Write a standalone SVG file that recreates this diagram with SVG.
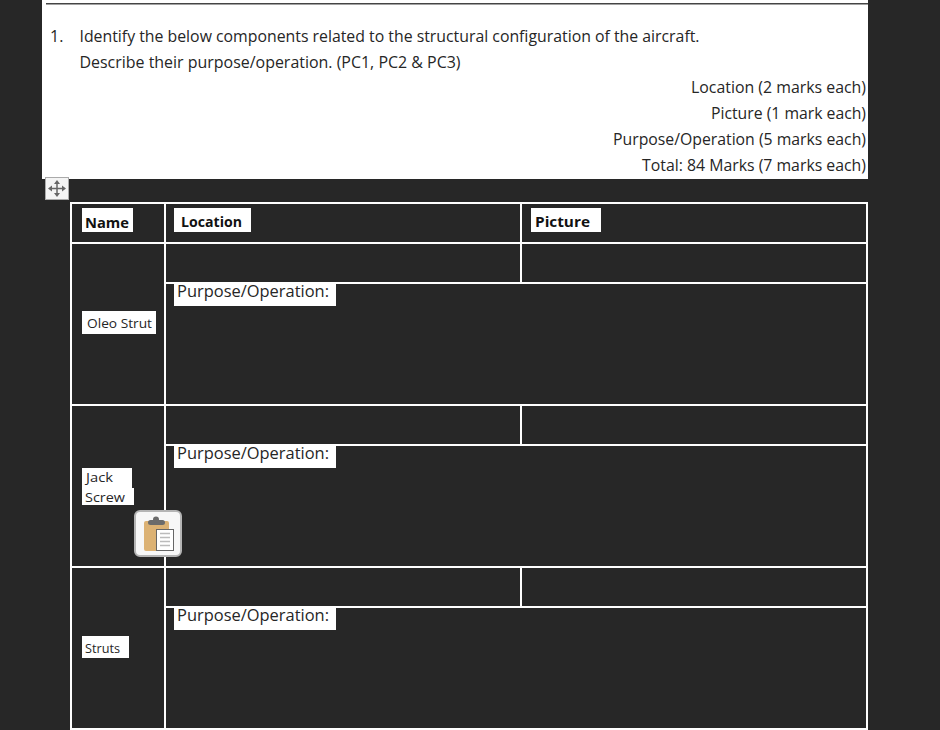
<svg xmlns="http://www.w3.org/2000/svg" width="940" height="730" viewBox="0 0 940 730">
<style>
text{font-family:"Open Sans","Noto Sans","Liberation Sans",sans-serif;fill:#262626}
.t{font-size:16px}
.r{font-size:16px;text-anchor:end}
.h{font-size:14.5px;font-weight:700;fill:#111}
.n{font-size:13.5px}
.p{font-size:16.5px}
.g{stroke:#fff;stroke-width:2;fill:none}
.w{fill:#fff}
</style>
<rect width="940" height="730" fill="#272727"/>
<g id="page">
<rect class="w" x="42" y="0" width="826" height="179"/>
<rect x="46" y="3" width="822" height="1.5" fill="#444"/>
<text class="t" x="50" y="42">1.</text>
<text class="t" x="79.500" y="42" textLength="620" lengthAdjust="spacingAndGlyphs">Identify the below components related to the structural configuration of the aircraft.</text>
<text class="t" x="79.500" y="68" textLength="381" lengthAdjust="spacingAndGlyphs">Describe their purpose/operation. (PC1, PC2 &amp; PC3)</text>
<text class="r" x="866" y="93" textLength="175" lengthAdjust="spacingAndGlyphs">Location (2 marks each)</text>
<text class="r" x="866" y="119" textLength="155" lengthAdjust="spacingAndGlyphs">Picture (1 mark each)</text>
<text class="r" x="866" y="145" textLength="253" lengthAdjust="spacingAndGlyphs">Purpose/Operation (5 marks each)</text>
<text class="r" x="866" y="171" textLength="224" lengthAdjust="spacingAndGlyphs">Total: 84 Marks (7 marks each)</text>
</g>
<g id="table-grid" class="g">
<path d="M71 203H867M71 243H867M165 283H867M71 405H867M165 445H867M71 567H867M165 607H867M71 729H867"/>
<path d="M71 202V730M165 202V730M867 202V730M521 203V243M521 243V283M521 405V445M521 567V607"/>
</g>
<g id="header-name"><rect class="w" x="82" y="208" width="51" height="24"/><text class="h" x="85" y="228" textLength="44" lengthAdjust="spacingAndGlyphs">Name</text></g>
<g id="header-location"><rect class="w" x="174" y="208" width="77" height="24"/><text class="h" x="181" y="227" textLength="61" lengthAdjust="spacingAndGlyphs">Location</text></g>
<g id="header-picture"><rect class="w" x="531" y="208" width="70" height="24"/><text class="h" x="535" y="227" textLength="55" lengthAdjust="spacingAndGlyphs">Picture</text></g>
<g id="row-oleo"><rect class="w" x="82" y="311" width="74" height="23"/><text class="n" x="87" y="328" textLength="65" lengthAdjust="spacingAndGlyphs">Oleo Strut</text></g>
<g id="row-jack"><rect class="w" x="82" y="468" width="50" height="20"/><rect class="w" x="82" y="488" width="52" height="17"/><text class="n" x="86" y="482" textLength="27" lengthAdjust="spacingAndGlyphs">Jack</text><text class="n" x="85" y="502" textLength="40" lengthAdjust="spacingAndGlyphs">Screw</text></g>
<g id="row-struts"><rect class="w" x="82" y="636" width="47" height="22"/><text class="n" x="85" y="653" textLength="35" lengthAdjust="spacingAndGlyphs">Struts</text></g>
<g id="purpose-1"><rect class="w" x="174" y="284" width="162" height="22"/><text class="p" x="177" y="297" textLength="152" lengthAdjust="spacingAndGlyphs">Purpose/Operation:</text></g>
<g id="purpose-2"><rect class="w" x="174" y="446" width="162" height="22"/><text class="p" x="177" y="459" textLength="152" lengthAdjust="spacingAndGlyphs">Purpose/Operation:</text></g>
<g id="purpose-3"><rect class="w" x="174" y="608" width="162" height="22"/><text class="p" x="177" y="621" textLength="152" lengthAdjust="spacingAndGlyphs">Purpose/Operation:</text></g>
<g id="move-handle">
<rect x="45.500" y="177.500" width="23" height="22" fill="#f4f4f4" stroke="#aaa"/>
<path d="M57 182V195M50 188.500H64" stroke="#666" stroke-width="1.500"/>
<path d="M57 180l-3 4h6zM57 197l-3-4h6zM48 188.500l4-3v6zM66 188.500l-4-3v6z" fill="#666"/>
</g>
<g id="paste-icon">
<rect x="135" y="511" width="46" height="45" rx="5" fill="#f7f7f7" stroke="#b5b5b5" stroke-width="2"/>
<rect x="144" y="521" width="25" height="30" rx="2" fill="#dcb274"/>
<rect x="148" y="520" width="17" height="5" rx="2.500" fill="#6b6b6b"/>
<circle cx="156" cy="519.500" r="3" fill="#6b6b6b"/>
<rect x="156.500" y="529.500" width="17" height="21" fill="#fff" stroke="#666"/>
<path d="M160 533.500h10M160 537.500h10M160 541.500h10M160 545.500h10" stroke="#bbb" stroke-width="1.500"/>
</g>
</svg>
